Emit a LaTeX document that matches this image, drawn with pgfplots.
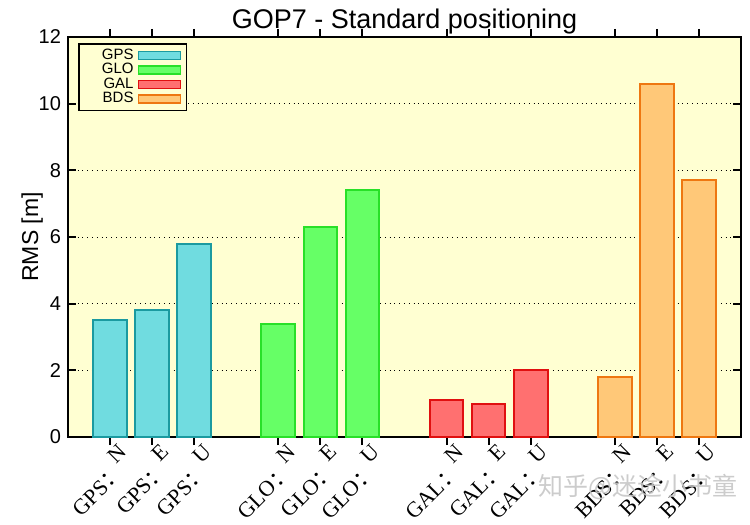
\documentclass[border=0pt]{standalone}
\usepackage{pgfplots}
\pgfplotsset{compat=1.18}
\usetikzlibrary{calc}
\usepackage{fontspec}
\setmainfont{Liberation Sans}
\newfontfamily\serifx{Liberation Serif}
\newfontfamily\cjk{Noto Sans CJK SC}
\definecolor{bgY}{RGB}{255,255,210}
\definecolor{gpsF}{RGB}{112,220,224}
\definecolor{gpsE}{RGB}{27,154,160}
\definecolor{gloF}{RGB}{102,255,102}
\definecolor{gloE}{RGB}{40,224,40}
\definecolor{galF}{RGB}{255,112,112}
\definecolor{galE}{RGB}{224,16,16}
\definecolor{bdsF}{RGB}{255,200,120}
\definecolor{bdsE}{RGB}{238,119,17}
\newcommand{\tl}[2]{#1{\cjk ：}\raisebox{6pt}{#2}}
\begin{document}
\begin{tikzpicture}
\begin{axis}[
  scale only axis,
  width=336.5pt, height=200pt,
  xmin=-1, xmax=15, ymin=0, ymax=12,
  axis background/.style={fill=bgY},
  axis line style={line width=1.2pt},
  ytick={0,2,...,12},
  xtick={0,1,2,4,5,6,8,9,10,12,13,14},
  xtick pos=both,
  ytick pos=both,
  xticklabels={\tl{GPS}{N},\tl{GPS}{E},\tl{GPS}{U},\tl{GLO}{N},\tl{GLO}{E},\tl{GLO}{U},\tl{GAL}{N},\tl{GAL}{E},\tl{GAL}{U},\tl{BDS}{N},\tl{BDS}{E},\tl{BDS}{U}},
  xticklabel style={xshift=9.5pt, yshift=-3pt, rotate=45, anchor=east, font=\serifx\fontsize{11}{12}\selectfont, inner sep=1pt},
  yticklabel style={font=\fontsize{10}{12}\selectfont},
  /pgf/number format/assume math mode=true,
  tick align=inside,
  major tick length=4pt,
  xtick style={solid, draw=black, line width=1pt},
  ytick style={solid, draw=black, line width=1pt},
  ymajorgrids,
  grid style={black, dotted, line width=0.4pt},
  title={GOP7 - Standard positioning},
  title style={font=\fontsize{13.5}{15}\selectfont, yshift=-8pt},
  ylabel={RMS [m]},
  ylabel style={font=\fontsize{11.5}{13}\selectfont, yshift=-9pt},
  ybar, bar width=0.8, bar shift=0pt,
  legend style={at={(rel axis cs:0.015,0.985)}, anchor=north west, fill=bgY, draw=black, line width=0.8pt, font=\fontsize{7.5}{8}\selectfont, row sep=-3.5pt, inner xsep=2.5pt, inner ysep=0.5pt},
  legend cell align=right,
  legend plot pos=right,
  legend image code/.code={\draw[#1, line width=0.9pt] (0pt,-2pt) rectangle (21pt,2pt);},
  clip=false,
]
\addplot[fill=gpsF, draw=gpsE, line width=1pt] coordinates {(0,3.5) (1,3.8) (2,5.8)};
\addlegendentry{\hspace*{7pt}GPS}
\addplot[fill=gloF, draw=gloE, line width=1pt] coordinates {(4,3.4) (5,6.3) (6,7.4)};
\addlegendentry{GLO}
\addplot[fill=galF, draw=galE, line width=1pt] coordinates {(8,1.1) (9,1.0) (10,2.0)};
\addlegendentry{GAL}
\addplot[fill=bdsF, draw=bdsE, line width=1pt] coordinates {(12,1.8) (13,10.6) (14,7.7)};
\addlegendentry{BDS}
\node[font=\cjk\fontsize{12.5}{13}\selectfont, text=black!22, opacity=0.9] at (axis cs:12.55,-1.5) {知乎@迷途小书童};
\end{axis}
\pgfresetboundingbox
\path ($(current axis.south west)+(-34pt,-44pt)$) rectangle ($(current axis.north east)+(4.5pt,18.5pt)$);
\end{tikzpicture}
\end{document}
